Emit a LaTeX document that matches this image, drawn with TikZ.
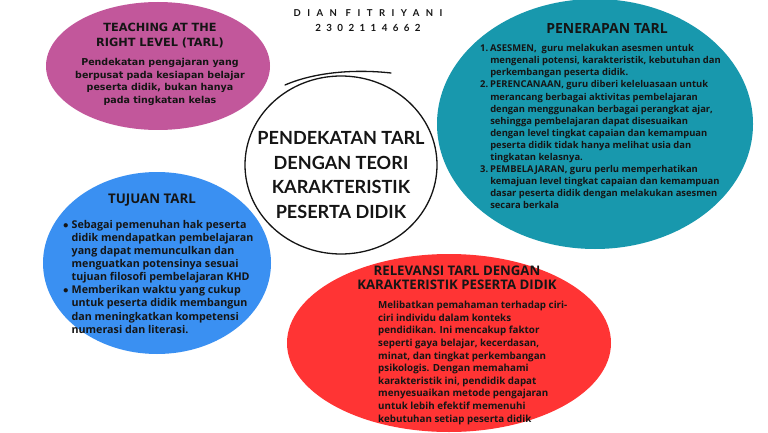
\documentclass[tikz,border=0pt]{standalone}
\usepackage{fontspec}
\setmainfont{Open Sans}
\newfontfamily\pinkfont{DejaVu Sans}
\newfontfamily\centfont{Lato}
\definecolor{pinkc}{HTML}{C2579B}
\definecolor{tealc}{HTML}{1898AD}
\definecolor{bluec}{HTML}{3A90F2}
\definecolor{redc}{HTML}{FF3434}
\definecolor{ink}{HTML}{151515}
\begin{document}
\begin{tikzpicture}[x=1pt,y=-1pt,
  txt/.style={text=ink,inner sep=0pt,font=\bfseries},
  head/.style={txt,align=center},
  body/.style={txt,anchor=north west,align=left}]
\useasboundingbox[fill=white] (0,0) rectangle (768,433);
% blobs
\fill[pinkc] (158,66) ellipse [x radius=112pt,y radius=64pt];
\fill[tealc] (595,124) ellipse [x radius=158pt,y radius=125pt];
\fill[bluec] (157,263) ellipse [x radius=114pt,y radius=91pt];
\fill[redc] (449,343) ellipse [x radius=162pt,y radius=89pt];
% central hand-drawn circle
\draw[line width=1.3pt,ink] (341,165) ellipse [x radius=96pt,y radius=89pt];
\coordinate (tailA) at (285,85);
\coordinate (tailB) at (391,73);
\draw[line width=1.3pt,ink,line cap=round] (tailA) .. controls (315,72) and (355,69) .. (tailB);
% author
\node[txt,font=\centfont\bfseries\fontsize{9.5}{11}\selectfont\addfontfeatures{LetterSpace=68}] (author) at (368,13) {DIAN FITRIYANI};
\node[txt,font=\centfont\bfseries\fontsize{9.8}{11}\selectfont\addfontfeatures{LetterSpace=55}] (nim) at (368,28) {2302114662};
% center
\node[head,font=\centfont\bfseries\fontsize{18.1}{24.7}\selectfont] (center) at (341,175) {PENDEKATAN TARL\\DENGAN TEORI\\KARAKTERISTIK\\PESERTA DIDIK};
% pink
\node[head,font=\pinkfont\bfseries\fontsize{11.3}{15}\selectfont] (pinkhead) at (160,36) {TEACHING AT THE\\RIGHT LEVEL (TARL)};
\node[head,font=\pinkfont\bfseries\fontsize{9.5}{12.5}\selectfont] (pinkbody) at (160,82) {Pendekatan pengajaran yang\\berpusat pada kesiapan belajar\\peserta didik, bukan hanya\\pada tingkatan kelas};
% teal
\node[head,font=\bfseries\fontsize{14}{16}\selectfont] (tealhead) at (607,28) {PENERAPAN TARL};
\node[body,font=\bfseries\fontsize{9.4}{12.1}\selectfont] (tealbody) at (480,43) {%
\begin{tabular}{@{}r@{\hspace{2pt}}l@{}}
1. & ASESMEN,\ \ guru melakukan asesmen untuk\\
 & mengenali potensi, karakteristik, kebutuhan dan\\
 & perkembangan peserta didik.\\
2. & PERENCANAAN, guru diberi keleluasaan untuk\\
 & merancang berbagai aktivitas pembelajaran\\
 & dengan menggunakan berbagai perangkat ajar,\\
 & sehingga pembelajaran dapat disesuaikan\\
 & dengan level tingkat capaian dan kemampuan\\
 & peserta didik tidak hanya melihat usia dan\\
 & tingkatan kelasnya.\\
3. & PEMBELAJARAN, guru perlu memperhatikan\\
 & kemajuan level tingkat capaian dan kemampuan\\
 & dasar peserta didik dengan melakukan asesmen\\
 & secara berkala
\end{tabular}};
% blue
\node[head,font=\bfseries\fontsize{13.3}{16}\selectfont] (bluehead) at (152,200) {TUJUAN TARL};
\node[body,font=\bfseries\fontsize{10.7}{13.1}\selectfont] (bluebody) at (63,219) {%
\begin{tabular}{@{}c@{\hspace{3pt}}l@{}}
$\bullet$ & Sebagai pemenuhan hak peserta\\
 & didik mendapatkan pembelajaran\\
 & yang dapat memunculkan dan\\
 & menguatkan potensinya sesuai\\
 & tujuan filosofi pembelajaran KHD\\
$\bullet$ & Memberikan waktu yang cukup\\
 & untuk peserta didik membangun\\
 & dan meningkatkan kompetensi\\
 & numerasi dan literasi.
\end{tabular}};
% red
\node[head,font=\bfseries\fontsize{13.2}{14.5}\selectfont] (redhead) at (457,278) {RELEVANSI TARL DENGAN\\KARAKTERISTIK PESERTA DIDIK};
\node[body,font=\bfseries\fontsize{9.8}{12.6}\selectfont] (redbody) at (378,301) {%
Melibatkan pemahaman terhadap ciri-\\
ciri individu dalam konteks\\
pendidikan. Ini mencakup faktor\\
seperti gaya belajar, kecerdasan,\\
minat, dan tingkat perkembangan\\
psikologis. Dengan memahami\\
karakteristik ini, pendidik dapat\\
menyesuaikan metode pengajaran\\
untuk lebih efektif memenuhi\\
kebutuhan setiap peserta didik};
\end{tikzpicture}
\end{document}
